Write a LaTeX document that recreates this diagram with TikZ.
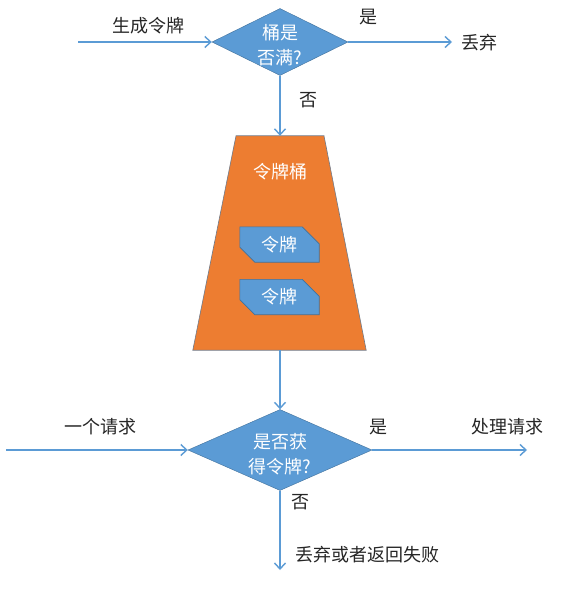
\documentclass[tikz,border=0pt]{standalone}
\usepackage{fontspec}
\setmainfont{Noto Sans CJK SC}
\usetikzlibrary{shapes.geometric,arrows.meta,backgrounds}
\definecolor{blu}{HTML}{5B9BD5}
\definecolor{bludk}{HTML}{41719C}
\definecolor{org}{HTML}{ED7D31}
\definecolor{txt}{HTML}{262626}
\definecolor{edge}{HTML}{6F7A8A}
\begin{document}
\begin{tikzpicture}[x=1pt,y=-1pt,
  flow/.style={draw=blu,line width=1.7pt,-{Straight Barb[length=6pt,width=11pt,line width=1.4pt]}},
  dia/.style={diamond,fill=blu,draw=bludk,line width=0.4pt,inner sep=0pt},
  whitetext/.style={text=white,font=\fontsize{18}{25}\selectfont,align=center,inner sep=0pt},
  lbl/.style={text=txt,font=\fontsize{18}{22}\selectfont,inner sep=0pt},
  tokbox/.style={minimum width=79pt,minimum height=35pt,inner sep=0pt,
    text=white,font=\fontsize{18}{22}\selectfont},
  tokshape/.style={fill=blu,draw=bludk,line width=0.6pt}
]
\useasboundingbox (0,0) rectangle (575,596);

% top decision
\node[dia,minimum width=136pt,minimum height=67pt] (d1) at (280,42) {};
\node[whitetext] (d1t) at (280,45) {桶是\\否满?};
\coordinate (in1) at (78,42);
\coordinate (out1) at (452,42);
\node[lbl] (gen) at (148,26) {生成令牌};
\node[lbl] (yes1) at (368,17) {是};
\node[lbl,anchor=west] (drop) at (461,43) {丢弃};
\node[lbl] (no1) at (308,100) {否};

% bucket
\node[minimum width=173pt,minimum height=214pt,inner sep=0pt] (bucket) at (280,243) {};
\node[whitetext] (btitle) at (280,172) {令牌桶};
\node[tokbox] (tk1) at (279.5,244.5) {令牌};
\node[tokbox] (tk2) at (279.5,297) {令牌};
\begin{scope}[on background layer]
\fill[white] (0,0) rectangle (575,596);
\draw[fill=org,draw=edge,line width=0.6pt]
  ([xshift=-44pt]bucket.north) -- ([xshift=44pt]bucket.north)
  -- ([xshift=-0.5pt]bucket.south east) -- ([xshift=-0.5pt]bucket.south west) -- cycle;
\foreach \t in {tk1,tk2}{
  \draw[tokshape] (\t.north west) -- ([xshift=-17pt]\t.north east)
    -- ([yshift=-17pt]\t.north east) -- (\t.south east)
    -- ([xshift=15pt]\t.south west) -- ([yshift=15pt]\t.south west) -- cycle;
}
\end{scope}

% bottom decision
\node[dia,minimum width=184pt,minimum height=81pt] (d2) at (280,450) {};
\node[whitetext] (d2t) at (280,454) {是否获\\得令牌?};
\coordinate (in2) at (6,450);
\coordinate (out2) at (527,450);
\coordinate (out3) at (280,570);
\node[lbl] (req) at (100,427) {一个请求};
\node[lbl] (yes2) at (378,427) {是};
\node[lbl] (proc) at (507,427) {处理请求};
\node[lbl] (no2) at (300,502) {否};
\node[lbl,anchor=west] (fail) at (295,555) {丢弃或者返回失败};

% connectors
\draw[flow] (in1) -- (d1.west);
\draw[flow] (d1.east) -- (out1);
\draw[flow] (d1.south) -- (bucket.north);
\draw[flow] (bucket.south) -- (d2.north);
\draw[flow] (in2) -- (d2.west);
\draw[flow] (d2.east) -- (out2);
\draw[flow] (d2.south) -- (out3);
\end{tikzpicture}
\end{document}
